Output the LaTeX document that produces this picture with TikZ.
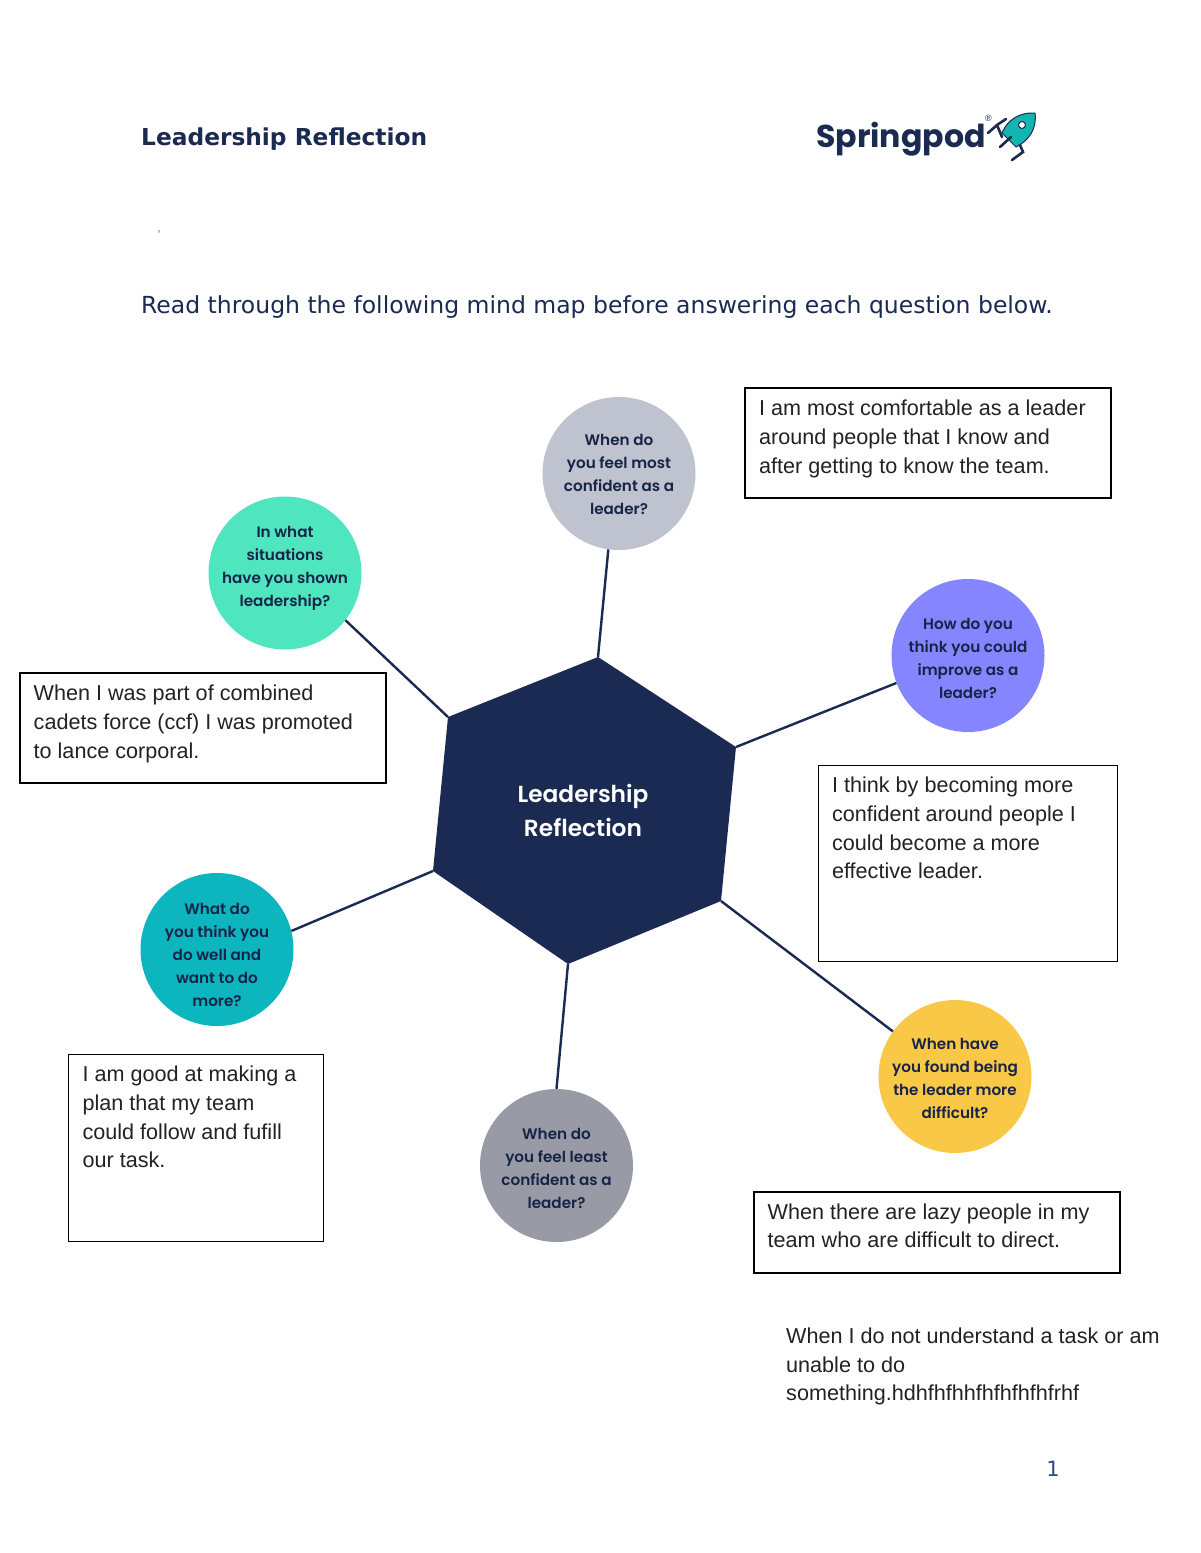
\documentclass[tikz,border=0pt]{standalone}
\usepackage{fontspec}
\setmainfont{Liberation Sans}
\newfontfamily\djv{DejaVu Sans}
\newfontfamily\pop{Poppins}[BoldFont={Poppins SemiBold}]
\newfontfamily\popb{Poppins Bold}
\definecolor{navy}{HTML}{1B2A53}
\definecolor{cgrey}{HTML}{BFC3CF}
\definecolor{cmint}{HTML}{4FE5BF}
\definecolor{cviolet}{HTML}{8585FF}
\definecolor{cteal}{HTML}{0DB5BE}
\definecolor{cdgrey}{HTML}{989BA5}
\definecolor{cyellow}{HTML}{F9C846}
\definecolor{rocket}{HTML}{12B5B0}
\definecolor{inktext}{HTML}{222222}
\definecolor{pagenum}{HTML}{2F4A80}
\tikzset{
 x=1pt,y=-1pt,
 bubble/.style={circle,minimum size=153pt,inner sep=0pt},
 bubbletext/.style={inner sep=0pt,align=center,text=navy!85!black,font=\fontsize{15.2}{23}\selectfont\pop\bfseries},
 conn/.style={draw=navy,line width=2.4pt},
 answerbox/.style={draw=black,anchor=north west,inner sep=0pt,text=inktext,font=\fontsize{21.6}{28.8}\selectfont},
 thick box/.style={line width=2.4pt},
 thin box/.style={line width=1.2pt},
 freetext/.style={anchor=north west,inner sep=0pt,align=left,text=inktext,font=\fontsize{21.6}{28.5}\selectfont},
}
\newcommand{\boxbody}[3]{\parbox[t][#2pt][t]{#1pt}{\vspace{7.3pt}\hspace*{14pt}\begin{tabular}[t]{@{}l@{}}#3\end{tabular}}}
\begin{document}
\begin{tikzpicture}
\useasboundingbox (0,0) rectangle (1200,1553);
\fill[white] (0,0) rectangle (1200,1553);
% header
\node[anchor=base west,inner sep=0pt,text=navy,font=\fontsize{23.3}{28}\selectfont\djv\bfseries] (title) at (141,145) {Leadership Reflection};
\node[anchor=base west,inner sep=0pt,text=navy,font=\fontsize{31.6}{36}\selectfont\popb] (brand) at (816,147) {Springpod};
\node[anchor=center,inner sep=0pt,text=navy,font=\fontsize{9}{9}\selectfont] (reg) at (988.5,118) {®};
% rocket
\fill[rocket,draw=navy,line width=1pt] (1035,113) .. controls (1020,112) and (1007,120) .. (1002,133) -- (1016,147) .. controls (1028,141) and (1037,130) .. (1035,113) -- cycle;
\fill[white,draw=navy,line width=1pt] (1022,125) circle (3.5);
\draw[navy,line width=2.6pt,line cap=round] (988,133) -- (997,125) -- (1006,119) (997,125) -- (1002,137);
\draw[navy,line width=2.6pt,line cap=round] (1020,145) -- (1023,152) -- (1012,160) (1000,147) -- (1011,137);
\node[anchor=center,inner sep=0pt,text=gray,font=\fontsize{13}{13}\selectfont] (tick) at (159,235) {'};
\node[anchor=base west,inner sep=0pt,text=navy,font=\fontsize{23.5}{28}\selectfont\djv] (intro) at (141,313) {Read through the following mind map before answering each question below.};
\node[anchor=base,inner sep=0pt,text=pagenum,font=\fontsize{21}{24}\selectfont\djv] (pageno) at (1053,1476) {1};
% hexagon
\coordinate (h1) at (598,657);
\coordinate (h2) at (736,747);
\coordinate (h3) at (721,901);
\coordinate (h4) at (568,964);
\coordinate (h5) at (433,871);
\coordinate (h6) at (448,717);
\fill[navy] (h1) -- (h2) -- (h3) -- (h4) -- (h5) -- (h6) -- cycle;
\node[align=center,text=white,inner sep=0pt,font=\fontsize{23.3}{34}\selectfont\pop\bfseries] (hub) at (583,810) {Leadership\\Reflection};
% bubbles
\node[bubble,fill=cgrey] (c1) at (619,473.5) {};
\node[bubble,fill=cmint] (c2) at (285,573) {};
\node[bubble,fill=cviolet] (c3) at (968,655.5) {};
\node[bubble,fill=cteal] (c4) at (217,949.5) {};
\node[bubble,fill=cdgrey] (c5) at (556.5,1165.5) {};
\node[bubble,fill=cyellow] (c6) at (955,1076.5) {};
\node[bubbletext] (t1) at (619,474.5) {When do\\you feel most\\confident as a\\leader?};
\node[bubbletext] (t2) at (285,568.5) {In what\\situations\\have you shown\\leadership?};
\node[bubbletext] (t3) at (968,658.5) {How do you\\think you could\\improve as a\\leader?};
\node[bubbletext] (t4) at (217,954.5) {What do\\you think you\\do well and\\want to do\\more?};
\node[bubbletext] (t5) at (556.5,1168.5) {When do\\you feel least\\confident as a\\leader?};
\node[bubbletext] (t6) at (955,1078.5) {When have\\you found being\\the leader more\\difficult?};
% connectors
\draw[conn] (h1) -- (c1.262.5);
\draw[conn] (h6) -- (c2.-38);
\draw[conn] (h2) -- (c3.201);
\draw[conn] (h5) -- (c4.14.6);
\draw[conn] (h4) -- (c5.90);
\draw[conn] (h3) -- (c6.144);
% answer boxes
\node[answerbox,thick box] (a1) at (744,387) {\boxbody{366}{110}{I am most comfortable as a leader\\around people that I know and\\after getting to know the team.}};
\node[answerbox,thick box] (a2) at (18.5,672) {\boxbody{366}{110}{When I was part of combined\\cadets force (ccf) I was promoted\\to lance corporal.}};
\node[answerbox,thin box] (a3) at (817.5,764.5) {\boxbody{299}{196}{I think by becoming more\\confident around people I\\could become a more\\effective leader.}};
\node[answerbox,thin box] (a4) at (68,1053.5) {\boxbody{255}{187}{I am good at making a\\plan that my team\\could follow and fufill\\our task.}};
\node[answerbox,thick box] (a5) at (752.5,1190.5) {\boxbody{366}{81}{When there are lazy people in my\\team who are difficult to direct.}};
\node[freetext] (a6) at (786,1328) {When I do not understand a task or am\\unable to do\\something.hdhfhfhhfhfhfhfhfrhf};
\end{tikzpicture}
\end{document}
